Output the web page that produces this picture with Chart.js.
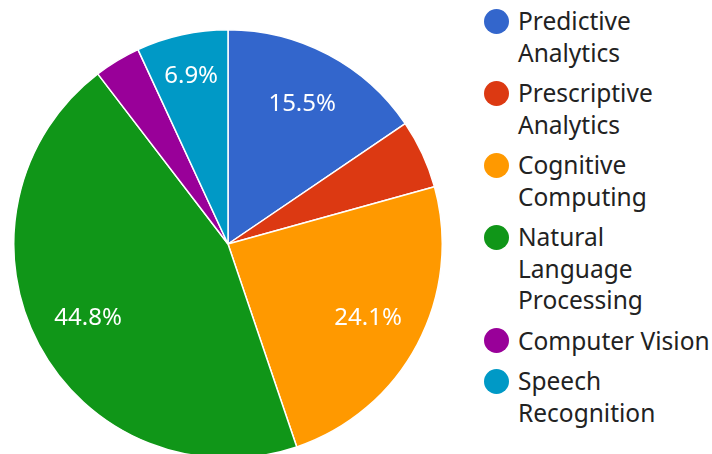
<!DOCTYPE html>
<html>
<head>
<meta charset="utf-8">
<script src="https://cdn.jsdelivr.net/npm/chart.js@4/dist/chart.umd.min.js"></script>
<style>
  html, body { margin: 0; padding: 0; background: #fff; }
  body { width: 712px; height: 454px; overflow: hidden; position: relative; font-family: 'Noto Sans', sans-serif; }
  #pieBox { position: absolute; left: 13px; top: 29px; width: 430px; height: 430px; }
  #legend { position: absolute; left: 484px; top: 5px; color: #222; font-size: 24.5px; }
  .item { display: flex; align-items: flex-start; margin-bottom: 9px; }
  .dot { width: 25px; height: 25px; border-radius: 50%; margin-top: 3.5px; margin-right: 9px; flex: none; }
  .txt { line-height: 31.5px; white-space: nowrap; }
</style>
</head>
<body>
<div id="pieBox"><canvas id="pie" width="430" height="430"></canvas></div>
<div id="legend"></div>
<script>
// legend labels, already split the way the reference wraps them
const categories = [
  ['Predictive', 'Analytics'],
  ['Prescriptive', 'Analytics'],
  ['Cognitive', 'Computing'],
  ['Natural', 'Language', 'Processing'],
  ['Computer Vision'],
  ['Speech', 'Recognition']
];
const shares = [15.5, 5.2, 24.1, 44.8, 3.5, 6.9];
const colors = ['#3366cc', '#dc3912', '#ff9900', '#109618', '#990099', '#0099c6'];

// percent labels inside the bigger slices
const pctLabels = {
  id: 'pctLabels',
  afterDatasetsDraw(chart) {
    const ctx = chart.ctx;
    const data = chart.data.datasets[0].data;
    const total = data.reduce((a, b) => a + b, 0);
    const meta = chart.getDatasetMeta(0);
    ctx.save();
    ctx.font = '24px "Noto Sans"';
    ctx.fillStyle = '#fff';
    ctx.textAlign = 'center';
    ctx.textBaseline = 'middle';
    meta.data.forEach((arc, i) => {
      const pct = data[i] / total * 100;
      if (pct < 6) return;
      const p = arc.getProps(['x', 'y', 'startAngle', 'endAngle', 'outerRadius'], true);
      const mid = (p.startAngle + p.endAngle) / 2;
      // narrow slices get their label pushed out a bit more
      const d = p.outerRadius * (pct < 10 ? 0.8 : 0.74);
      ctx.fillText(pct.toFixed(1) + '%', p.x + Math.cos(mid) * d, p.y + Math.sin(mid) * d);
    });
    ctx.restore();
  }
};

new Chart(document.getElementById('pie'), {
  type: 'pie',
  data: {
    labels: categories,
    datasets: [{
      data: shares,
      backgroundColor: colors,
      borderColor: '#fff',
      borderWidth: 1.5
    }]
  },
  options: {
    responsive: false,
    animation: false,
    plugins: {
      legend: { display: false },
      tooltip: { enabled: false }
    }
  },
  plugins: [pctLabels]
});

// html legend
const legend = document.getElementById('legend');
categories.forEach((lines, i) => {
  const item = document.createElement('div');
  item.className = 'item';
  item.innerHTML = '<div class="dot" style="background:' + colors[i] + '"></div>' +
    '<div class="txt">' + lines.join('<br>') + '</div>';
  legend.appendChild(item);
});
</script>
</body>
</html>
